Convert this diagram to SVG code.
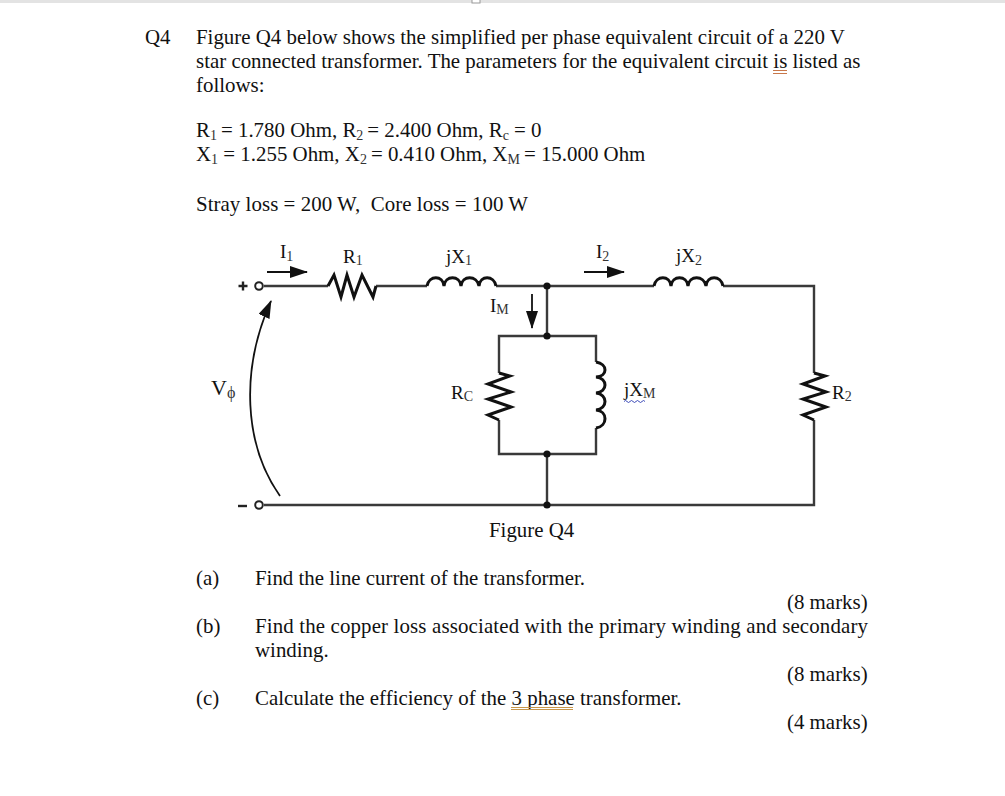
<svg xmlns="http://www.w3.org/2000/svg" width="1005" height="796" viewBox="0 0 1005 796">
<style>
text{font-family:"Liberation Serif","Times New Roman",serif;font-size:20.9px;fill:#111}
.lab{font-size:19px}
.sub{font-size:14px;fill:#333}
.w{fill:none;stroke:#3a3a3a;stroke-width:2.4;stroke-linejoin:miter}
.c{fill:none;stroke:#111;stroke-width:3;stroke-linejoin:miter}
.a{fill:none;stroke:#111;stroke-width:1.800}
.h{fill:#111;stroke:none}
.d{fill:#111;stroke:none}
.t{fill:#fff;stroke:#222;stroke-width:2}
</style>
<defs>
<marker id="ah" markerUnits="userSpaceOnUse" markerWidth="18" markerHeight="12" refX="17" refY="6" orient="auto"><path class="h" d="M0 0L18 6L0 12Z"/></marker>
</defs>
<rect width="1005" height="3" fill="#e3e3e3"/>
<rect x="472" y="-3" width="8" height="6" fill="#fff" stroke="#999"/>
<g id="question">
<text x="145" y="44">Q4</text>
<text x="196" y="44">Figure Q4 below shows the simplified per phase equivalent circuit of a 220 V</text>
<text x="196" y="68">star connected transformer. The parameters for the equivalent circuit <tspan>is</tspan> listed as</text>
<text x="196" y="92">follows:</text>
<path d="M773 70.500H787M773 73.500H787" stroke="#c8774a" fill="none"/>
<text x="196" y="137">R<tspan class="sub" dy="3">1</tspan><tspan dx="4" dy="-3">= 1.780 Ohm, R</tspan><tspan class="sub" dy="3">2</tspan><tspan dx="4" dy="-3">= 2.400 Ohm, R</tspan><tspan class="sub" dy="3">c</tspan><tspan dx="5" dy="-3">= 0</tspan></text>
<text x="196" y="161">X<tspan class="sub" dy="3">1</tspan><tspan dy="-3"> = 1.255 Ohm, X</tspan><tspan class="sub" dy="3">2</tspan><tspan dx="4" dy="-3">= 0.410 Ohm, X</tspan><tspan class="sub" dy="3">M</tspan><tspan dx="4" dy="-3">= 15.000 Ohm</tspan></text>
<text x="196" y="211" xml:space="preserve" textLength="332">Stray loss = 200 W,  Core loss = 100 W</text>
</g>
<g id="connectors">
<path class="w" d="M264 286H328M376 286H427M496 286H654M723 286H814V373M814 420V505H264M547 286V336M499 373V336H596V362M596 428V454H499V420M547 454V505"/>
<path class="a" d="M267 272H307" marker-end="url(#ah)"/>
<path class="a" d="M584 272H624" marker-end="url(#ah)"/>
<path class="a" d="M532 294V328" marker-end="url(#ah)"/>
<path class="a" d="M280 496C244 445 240 370 271 301" marker-end="url(#ah)"/>
</g>
<g id="R1"><path class="c" d="M328 286L334 275L341 297L347 275L354 297L362 275L373 297L376 286"/></g>
<g id="jX1"><path class="c" d="M427 286C429 275 443 275 444 286C445 275 460 275 461 286C462 275 477 275 479 286C480 275 494 275 496 286"/></g>
<g id="jX2"><path class="c" d="M654 286C656 275 670 275 671 286C672 275 687 275 688 286C689 275 704 275 706 286C707 275 721 275 723 286"/></g>
<g id="Rc"><path class="c" d="M499 373L510 376L488 384L511 392L488 399L511 407L488 415L499 420"/></g>
<g id="R2"><path class="c" d="M814 373L825 376L803 384L826 392L803 399L826 407L803 415L814 420"/></g>
<g id="jXM"><path class="c" d="M596 362C608 364 608 376 596 377C608 378 608 392 596 393C608 394 608 409 596 410C608 411 608 426 596 428"/></g>
<g id="terminal-top"><circle class="t" cx="259" cy="286" r="3.800"/><path d="M238.500 286H247.500M243 281.500V290.500" stroke="#222" stroke-width="2.400" fill="none"/></g>
<g id="terminal-bottom"><circle class="t" cx="259" cy="505" r="3.800"/><path d="M238 506H247" stroke="#222" stroke-width="2.400" fill="none"/></g>
<g id="junctions">
<circle class="d" cx="547" cy="286" r="3.600"/><circle class="d" cx="547" cy="336" r="3.600"/><circle class="d" cx="547" cy="454" r="3.600"/><circle class="d" cx="547" cy="505" r="3.600"/>
</g>
<g id="labels">
<text class="lab" x="280" y="258">I<tspan class="sub" dy="3">1</tspan></text>
<text class="lab" x="343" y="263">R<tspan class="sub" dy="2">1</tspan></text>
<text class="lab" x="446" y="263">jX<tspan class="sub" dy="2">1</tspan></text>
<text class="lab" x="596" y="258">I<tspan class="sub" dy="3">2</tspan></text>
<text class="lab" x="676" y="262">jX<tspan class="sub" dy="3">2</tspan></text>
<text class="lab" x="490" y="312">I<tspan class="sub" dy="2">M</tspan></text>
<text x="211" y="395" style="font-size:22px">V<tspan class="sub" dy="3" style="font-size:16px">ϕ</tspan></text>
<text class="lab" x="451" y="399">R<tspan class="sub" dy="2">C</tspan></text>
<text class="lab" x="624" y="396">jX<tspan class="sub" dy="2">M</tspan></text>
<path d="M624 401.500q1.500-2 3 0t3 0t3 0t3 0t3 0t3 0t3 0" stroke="#2a3ab0" fill="none" stroke-width="0.900"/>
<text class="lab" x="832" y="399">R<tspan class="sub" dy="2">2</tspan></text>
<text x="489" y="537">Figure Q4</text>
</g>
<g id="parts">
<text x="196" y="585">(a)</text>
<text x="255" y="585">Find the line current of the transformer.</text>
<text x="787" y="609">(8 marks)</text>
<text x="196" y="633">(b)</text>
<text x="255" y="633" textLength="613">Find the copper loss associated with the primary winding and secondary</text>
<text x="255" y="657">winding.</text>
<text x="787" y="681">(8 marks)</text>
<text x="196" y="705">(c)</text>
<text x="255" y="705">Calculate the efficiency of the 3 phase transformer.</text>
<path d="M511 707.500H573M511 709.500H573" stroke="#c8974a" fill="none"/>
<text x="787" y="729">(4 marks)</text>
</g>
</svg>
